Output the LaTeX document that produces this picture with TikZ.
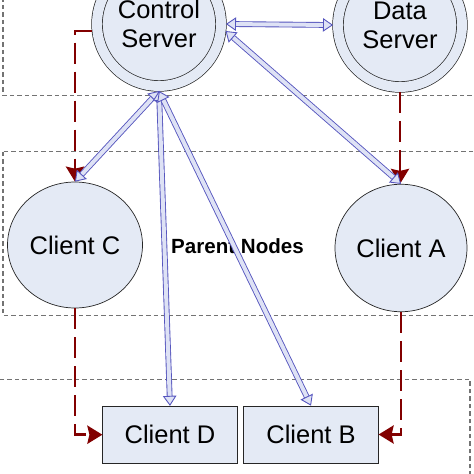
\documentclass[tikz,border=0pt]{standalone}
\usepackage{fontspec}
\setmainfont{Liberation Sans}
\usetikzlibrary{shapes.geometric,arrows.meta}
\definecolor{nodefill}{RGB}{228,234,245}
\definecolor{linkline}{RGB}{85,85,190}
\definecolor{linkfill}{RGB}{222,226,245}
\definecolor{flowred}{RGB}{130,0,0}
\tikzset{
  frame/.style={draw=gray!90!black, dash pattern=on 0.09cm off 0.06cm, line width=0.6pt},
  server/.style={circle, draw=gray!30!black, double=nodefill, double distance=0.2cm,
    fill=nodefill, minimum size=2.48cm, outer sep=0.1cm, inner sep=0pt, align=center,
    font=\fontsize{14.5}{16.5}\selectfont},
  client/.style={ellipse, draw=gray!30!black, fill=nodefill, inner sep=0pt,
    font=\fontsize{14.5}{16.5}\selectfont},
  leaf/.style={rectangle, draw=gray!30!black, fill=nodefill, minimum width=2.69cm,
    minimum height=1.14cm, font=\fontsize{14.5}{16.5}\selectfont},
  link/.style={draw=linkline, line width=0.5pt, double=linkfill, double distance=0.08cm,
    {Triangle[length=0.2cm,width=0.27cm,fill=linkfill]}-{Triangle[length=0.2cm,width=0.27cm,fill=linkfill]}},
  flow/.style={draw=flowred, line width=1.7pt, dash pattern=on 0.42cm off 0.16cm,
    -{Stealth[length=0.3cm,width=0.36cm,inset=0.04cm]}}
}
\begin{document}
\begin{tikzpicture}[x=0.02cm,y=-0.02cm]
\useasboundingbox (0,0) rectangle (474,474);
\clip (0,0) rectangle (474,474);
% frames
\draw [frame] (3,-10) rectangle (490,95.6);
\draw [frame] (3,151.5) rectangle (490,315.7);
\draw [frame] (-5,379.3) rectangle (470,490);

% nodes
\node [server] (ctrl) at (159,24) {Control\\Server};
\node [server] (data) at (400,25) {Data\\Server};
\node [client, minimum width=2.7cm, minimum height=2.52cm] (cliC) at (75,245) {Client C};
\node [client, minimum width=2.64cm, minimum height=2.55cm] (cliA) at (401,248) {Client A};
\node [leaf] (cliD) at (170,434.7) {Client D};
\node [leaf] (cliB) at (311,434.5) {Client B};
\node [font=\fontsize{11.7}{14}\selectfont\bfseries] (parent) at (237.5,245.7) {Parent Nodes};

% red flows
\draw [flow] (ctrl.186) -| (cliC.north);
\draw [flow] (data.south) -- (data.south |- cliA.north);
\draw [flow] (cliC.south) |- (cliD.west);
\draw [flow] (cliA.south) |- (cliB.east);

% blue links
\draw [link] (ctrl.east) -- (data.west);
\draw [link] (ctrl.south) -- (cliC.north);
\draw [link] (ctrl.south) -- (cliD.north);
\draw [link] (ctrl.south) -- (cliB.north);
\draw [link] (ctrl.-6) -- (cliA.north);
\end{tikzpicture}
\end{document}
